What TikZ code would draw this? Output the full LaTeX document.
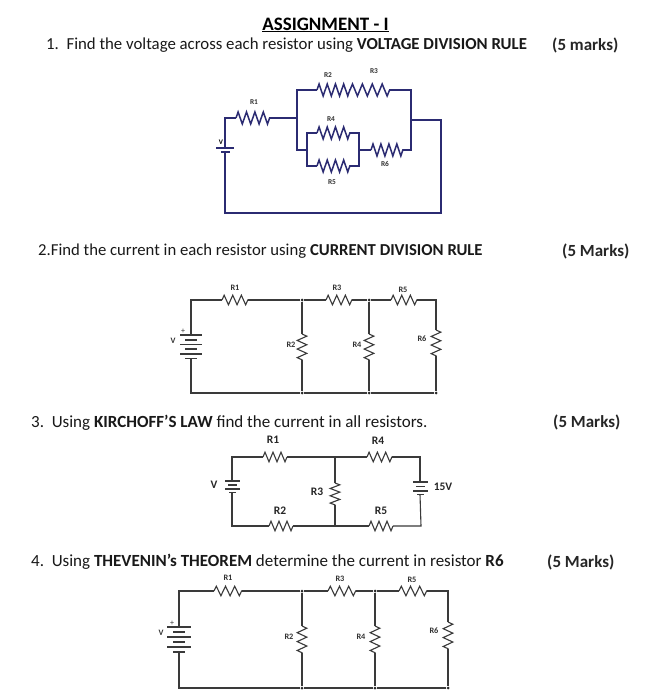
\documentclass[tikz,border=0pt]{standalone}
\usepackage{fontspec}
\setmainfont{Carlito}
\usetikzlibrary{decorations.pathmorphing}
\definecolor{navy}{HTML}{2B2B72}
\definecolor{wirec}{HTML}{3A3A3A}
\tikzset{
  wire/.style={draw=wirec,line width=1.1pt,line join=miter},
  navywire/.style={draw=navy,line width=1.5pt,line join=miter},
  res/.style={decorate,decoration={zigzag,segment length=#1,amplitude=4.8pt}},
  nres/.style={decorate,decoration={zigzag,segment length=#1,amplitude=6pt}},
  head/.style={anchor=west,inner sep=0pt,font=\fontsize{16.8}{18}\selectfont,text=black!90},
  heada/.style={anchor=west,inner sep=0pt,font=\fontsize{16.7}{18}\selectfont,text=black!90},
  headb/.style={anchor=west,inner sep=0pt,font=\fontsize{17}{18}\selectfont,text=black!90},
  marks/.style={anchor=west,inner sep=0pt,font=\fontsize{17}{18}\selectfont\bfseries,text=black!85},
  lab/.style={inner sep=0pt,font=\fontsize{8.3}{9}\selectfont\bfseries,text=black!80},
  labn/.style={inner sep=0pt,font=\fontsize{7.4}{8}\selectfont\bfseries,text=black!80},
  labb/.style={inner sep=0pt,font=\fontsize{11.5}{12}\selectfont\bfseries,text=black!85},
  plate/.style={fill=#1,draw=none,inner sep=0pt,minimum height=1.2pt},
  jdot/.style={circle,fill=black!85,inner sep=0pt,minimum size=3pt},
  lng/.style={minimum width=22pt},
  sht/.style={minimum width=12pt},
}
\begin{document}
\begin{tikzpicture}[x=1pt,y=-1pt]
\useasboundingbox[fill=white] (0,0) rectangle (666,700);
% headings
\node[inner sep=0pt,font=\fontsize{19}{21}\selectfont\bfseries] (title) at (325.5,25) {\underline{ASSIGNMENT - I}};
\node[head] (q1) at (46,45.5) {1.\ \ Find the voltage across each resistor using \textbf{VOLTAGE DIVISION RULE}};
\node[marks] (m1) at (552,45.5) {(5 marks)};
\node[heada] (q2) at (38,251) {2.Find the current in each resistor using \textbf{CURRENT DIVISION RULE}};
\node[marks] (m2) at (562,251) {(5 Marks)};
\node[headb] (q3) at (31,423) {3.\ \ Using \textbf{KIRCHOFF'S LAW} find the current in all resistors.};
\node[marks] (m3) at (553,422.5) {(5 Marks)};
\node[headb] (q4) at (31,562) {4.\ \ Using \textbf{THEVENIN's THEOREM} determine the current in resistor \textbf{R6}};
\node[marks] (m4) at (547,562) {(5 Marks)};

% ---------- circuit 1
\coordinate (a1) at (225,118);\coordinate (a1l) at (236,118);\coordinate (a1r) at (270,118);
\coordinate (aj) at (297,118);\coordinate (at) at (297,90);\coordinate (a2l) at (317,90);\coordinate (a2r) at (350,90);
\coordinate (a3r) at (390,90);\coordinate (atr) at (411,90);\coordinate (amr) at (411,120);\coordinate (abr) at (411,150);
\coordinate (ab) at (297,150);\coordinate (ai) at (307,150);\coordinate (ait) at (307,133);\coordinate (aib) at (307,166);
\coordinate (a4l) at (317,133);\coordinate (a4r) at (350,133);\coordinate (a5l) at (317,166);\coordinate (a5r) at (350,166);
\coordinate (aot) at (359,133);\coordinate (aob) at (359,166);\coordinate (ao) at (359,150);
\coordinate (a6l) at (371,150);\coordinate (a6r) at (403,150);
\coordinate (aer) at (441,120);\coordinate (aebr) at (441,213);\coordinate (aebl) at (225,213);
\node[plate=navy,minimum width=18pt,minimum height=1.5pt] (apl1) at (225,148) {};
\node[plate=navy,minimum width=9pt,minimum height=1.5pt] (apl2) at (225,152) {};
\draw[navywire] (apl1.center) -- (a1) -- (a1l);
\draw[navywire,nres=8.4pt] (a1l) -- (a1r);
\draw[navywire] (a1r) -- (aj);
\draw[navywire] (ai) -- (ab) -- (at) -- (a2l);
\draw[navywire,nres=8.2pt] (a2l) -- (a2r);
\draw[navywire,nres=9.9pt] (a2r) -- (a3r);
\draw[navywire] (a3r) -- (atr) -- (abr) -- (a6r);
\draw[navywire,nres=7.95pt] (a6l) -- (a6r);
\draw[navywire] (a6l) -- (ao);
\draw[navywire] (a4l) -- (ait) -- (aib) -- (a5l);
\draw[navywire,nres=8.2pt] (a4l) -- (a4r);
\draw[navywire,nres=8.2pt] (a5l) -- (a5r);
\draw[navywire] (a4r) -- (aot) -- (aob) -- (a5r);
\draw[navywire] (amr) -- (aer) -- (aebr) -- (aebl) -- (apl2.center);
\node[labn] (ar1) at (254,102) {R1};
\node[labn] (ar2) at (328,75) {R2};
\node[labn] (ar3) at (374,71) {R3};
\node[labn] (ar4) at (331,119) {R4};
\node[labn] (ar5) at (332,182) {R5};
\node[labn] (ar6) at (385,164) {R6};
\node[inner sep=0pt,font=\fontsize{7}{7}\bfseries] (av) at (221,142) {V};

% ---------- circuit 2
\coordinate (b0) at (191,300);\coordinate (b1l) at (222,300);\coordinate (b1r) at (248,300);
\node[jdot] (bj1) at (302,300) {};\coordinate (b3l) at (326,300);\coordinate (b3r) at (352,300);
\node[jdot] (bj2) at (369,300) {};\coordinate (b5l) at (391,300);\coordinate (b5r) at (417,300);
\coordinate (btr) at (436,300);\coordinate (b6t) at (436,330);\coordinate (b6b) at (436,356);
\node[jdot] (bb3) at (436,393) {};\node[jdot] (bb2) at (369,393) {};\node[jdot] (bb1) at (302,393) {};
\coordinate (bbl) at (191,393);
\coordinate (b2t) at (302,334);\coordinate (b2b) at (302,360);\coordinate (b4t) at (369,334);\coordinate (b4b) at (369,360);
\node[plate=wirec,lng] (bp1) at (191,335) {};\node[plate=wirec,sht] (bp2) at (191,340) {};
\node[plate=wirec,lng] (bp3) at (191,344.5) {};\node[plate=wirec,sht] (bp4) at (191,349) {};
\node[plate=wirec,lng] (bp5) at (191,354) {};\node[plate=wirec,sht] (bp6) at (191,358.5) {};
\draw[wire] (bp1.center) -- (b0) -- (b1l);
\draw[wire,res=8.6pt] (b1l) -- (b1r);
\draw[wire] (b1r) -- (bj1) -- (b3l);
\draw[wire,res=8.6pt] (b3l) -- (b3r);
\draw[wire] (b3r) -- (bj2) -- (b5l);
\draw[wire,res=8.6pt] (b5l) -- (b5r);
\draw[wire] (b5r) -- (btr) -- (b6t);
\draw[wire,res=8.6pt] (b6t) -- (b6b);
\draw[wire] (b6b) -- (bb3) -- (bb2) -- (bb1) -- (bbl) -- (bp6.center);
\draw[wire] (bj1) -- (b2t);\draw[wire,res=8.6pt] (b2t) -- (b2b);\draw[wire] (b2b) -- (bb1);
\draw[wire] (bj2) -- (b4t);\draw[wire,res=8.6pt] (b4t) -- (b4b);\draw[wire] (b4b) -- (bb2);
\node[lab] (br1) at (235,288) {R1};\node[lab] (br3) at (337,288) {R3};\node[lab] (br5) at (403,290) {R5};
\node[lab] (br2) at (291,345) {R2};\node[lab] (br4) at (357,345) {R4};\node[lab] (br6) at (422,339) {R6};
\node[lab] (bv) at (173,341) {V};\node[lab,font=\fontsize{8}{8}\selectfont] (bplus) at (183,331) {+};

% ---------- circuit 3
\coordinate (c0) at (232,457);\coordinate (c1l) at (263,457);\coordinate (c1r) at (287,457);
\coordinate (cm) at (335,457);\coordinate (c4l) at (367,457);\coordinate (c4r) at (392,457);\coordinate (ctr) at (420,457);
\coordinate (c3t) at (335,483);\coordinate (c3b) at (335,505);\coordinate (cmb) at (335,526);
\coordinate (cbr) at (421,526);\coordinate (cbl) at (232,526);
\coordinate (c2l) at (269,526);\coordinate (c2r) at (293,526);\coordinate (c5l) at (369,526);\coordinate (c5r) at (393,526);
\node[plate=wirec,minimum width=15pt] (cp1) at (232,481) {};\node[plate=wirec,minimum width=9pt] (cp2) at (232,485) {};
\node[plate=wirec,minimum width=15pt] (cp3) at (232,489) {};\node[plate=wirec,minimum width=7pt] (cp4) at (232,492.5) {};
\node[plate=wirec,minimum width=15pt] (dp1) at (420,482) {};\node[plate=wirec,minimum width=9pt] (dp2) at (420,486.5) {};
\node[plate=wirec,minimum width=15pt] (dp3) at (420,491) {};\node[plate=wirec,minimum width=7pt] (dp4) at (420,494.5) {};
\draw[wire] (cp1.center) -- (c0) -- (c1l);
\draw[wire,res=8pt] (c1l) -- (c1r);
\draw[wire] (c1r) -- (cm) -- (c4l);
\draw[wire,res=8.3pt] (c4l) -- (c4r);
\draw[wire] (c4r) -- (ctr) -- (dp1.center);
\draw[wire] (dp4.center) -- (cbr) -- (c5r);
\draw[wire,res=8pt] (c5l) -- (c5r);
\draw[wire] (c5l) -- (cmb) -- (c2r);
\draw[wire,res=8pt] (c2l) -- (c2r);
\draw[wire] (c2l) -- (cbl) -- (cp4.center);
\draw[wire] (cm) -- (c3t);\draw[wire,res=7.3pt] (c3t) -- (c3b);\draw[wire] (c3b) -- (cmb);
\node[labb] (cr1) at (273,440) {R1};\node[labb] (cr4) at (378,441) {R4};\node[labb] (cr3) at (317,492) {R3};
\node[labb] (cr2) at (280,511) {R2};\node[labb] (cr5) at (381,511) {R5};
\node[labb] (cv) at (214,485) {V};\node[labb] (c15) at (443,487) {15V};

% ---------- circuit 4
\coordinate (e0) at (179,591);\coordinate (e1l) at (214,591);\coordinate (e1r) at (242,591);
\node[jdot] (ej1) at (302,591) {};\coordinate (e3l) at (328,591);\coordinate (e3r) at (356,591);
\node[jdot] (ej2) at (375,591) {};\coordinate (e5l) at (399,591);\coordinate (e5r) at (427,591);
\coordinate (etr) at (448,591);\coordinate (e6t) at (448,622);\coordinate (e6b) at (448,649);
\node[jdot] (eb3) at (448,688) {};\node[jdot] (eb2) at (375,688) {};\node[jdot] (eb1) at (302,688) {};
\coordinate (ebl) at (179,688);
\coordinate (e2t) at (302,626);\coordinate (e2b) at (302,653);\coordinate (e4t) at (375,626);\coordinate (e4b) at (375,653);
\node[plate=wirec,minimum width=24pt] (ep1) at (179,627) {};\node[plate=wirec,sht] (ep2) at (179,632) {};
\node[plate=wirec,minimum width=24pt] (ep3) at (179,637) {};\node[plate=wirec,sht] (ep4) at (179,642) {};
\node[plate=wirec,minimum width=24pt] (ep5) at (179,647) {};\node[plate=wirec,sht] (ep6) at (179,652) {};
\draw[wire] (ep1.center) -- (e0) -- (e1l);
\draw[wire,res=9.2pt] (e1l) -- (e1r);
\draw[wire] (e1r) -- (ej1) -- (e3l);
\draw[wire,res=9.2pt] (e3l) -- (e3r);
\draw[wire] (e3r) -- (ej2) -- (e5l);
\draw[wire,res=9.2pt] (e5l) -- (e5r);
\draw[wire] (e5r) -- (etr) -- (e6t);
\draw[wire,res=8.9pt] (e6t) -- (e6b);
\draw[wire] (e6b) -- (eb3) -- (eb2) -- (eb1) -- (ebl) -- (ep6.center);
\draw[wire] (ej1) -- (e2t);\draw[wire,res=8.9pt] (e2t) -- (e2b);\draw[wire] (e2b) -- (eb1);
\draw[wire] (ej2) -- (e4t);\draw[wire,res=8.9pt] (e4t) -- (e4b);\draw[wire] (e4b) -- (eb2);
\node[lab] (er1) at (228,578) {R1};\node[lab] (er3) at (340,579) {R3};\node[lab] (er5) at (412,580) {R5};
\node[lab] (er2) at (289,637) {R2};\node[lab] (er4) at (361,637) {R4};\node[lab] (er6) at (434,631) {R6};
\node[lab] (ev) at (161,633) {V};\node[lab,font=\fontsize{8}{8}\selectfont] (eplus) at (172,623) {+};
\end{tikzpicture}
\end{document}
